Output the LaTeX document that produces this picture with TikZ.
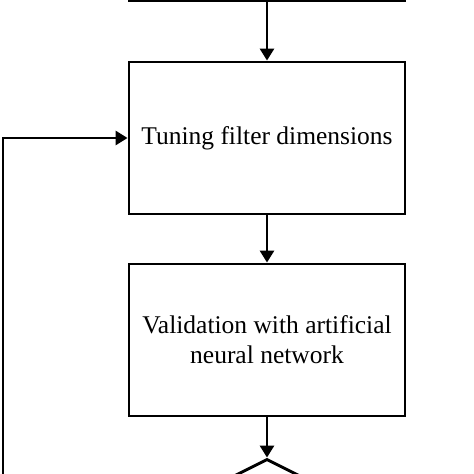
\documentclass[tikz,border=0pt]{standalone}
\usepackage{fontspec}
\setmainfont{Liberation Serif}
\usetikzlibrary{arrows.meta,shapes.geometric}

\begin{document}
\begin{tikzpicture}[x=1pt,y=-1pt,line width=2.9pt,
    >={Triangle[length=12pt,width=14pt]},
    stepbox/.style={draw,rectangle,minimum width=276pt,minimum height=152pt,
        align=center,font=\fontsize{25.5}{30}\selectfont,inner sep=0pt},
    choice/.style={draw,diamond,aspect=2,minimum width=200pt,minimum height=100pt}]
    % page frame (the top and bottom of the chart fall outside it)
    \clip (0,0) rectangle (474,474);

    % boxes
    \node[stepbox] (prev) at (267,-75) {};
    \node[stepbox] (tune) at (267,138) {Tuning filter dimensions};
    \node[stepbox] (valid) at (267,340) {Validation with artificial\\neural network};
    \node[choice] (check) at (267,509) {};

    % flow down
    \draw[->] (prev) -- (tune);
    \draw[->] (tune) -- (valid);
    \draw[->] (valid) -- (check);

    % feedback loop on the left
    \coordinate (back) at (3,520);
    \draw[->] (back) |- (tune.west);
\end{tikzpicture}
\end{document}
